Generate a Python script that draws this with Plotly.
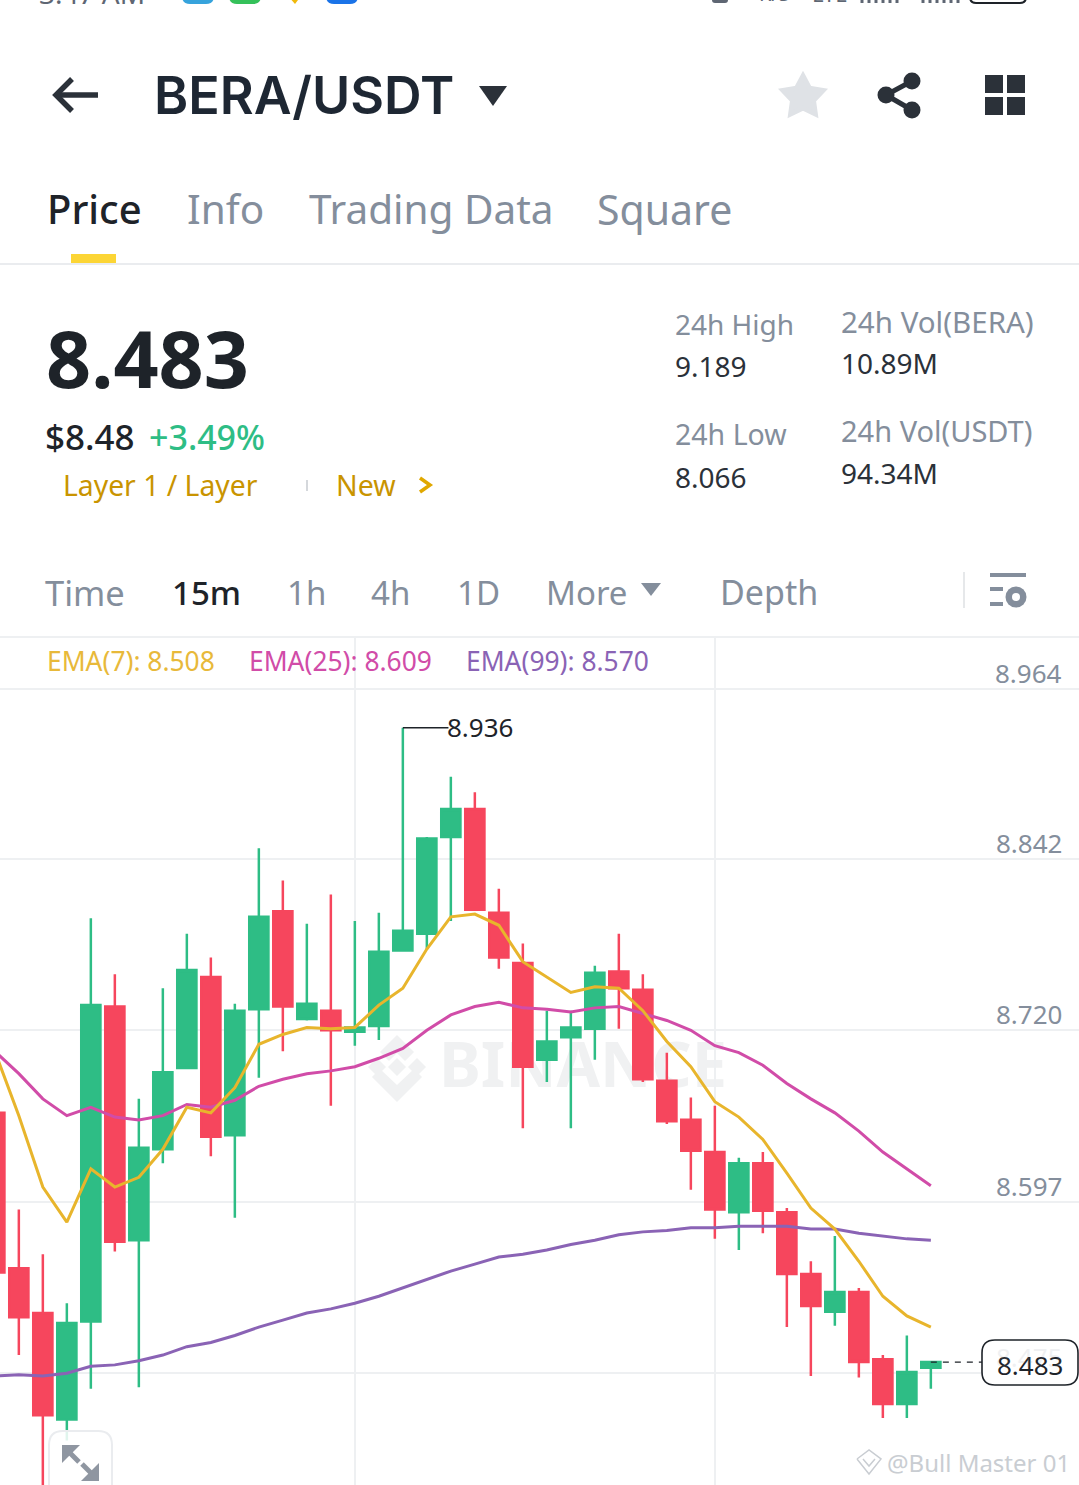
import math
import plotly.graph_objects as go

W = 1079
H = 1485

# candles, left to right
opens  = [8.661,8.550,8.518,8.442,8.512,8.737,8.570,8.635,8.693,8.758,8.645,8.735,8.805,8.728,8.734,8.719,8.723,8.777,8.789,8.858,
          8.878,8.804,8.768,8.699,8.715,8.721,8.762,8.749,8.684,8.656,8.633,8.590,8.625,8.590,8.546,8.519,8.533,8.485,8.453,8.479]
highs  = [8.670,8.592,8.560,8.525,8.800,8.760,8.671,8.750,8.789,8.772,8.739,8.850,8.827,8.796,8.817,8.798,8.804,8.936,8.858,8.901,
          8.890,8.821,8.782,8.734,8.734,8.766,8.789,8.760,8.704,8.672,8.666,8.629,8.633,8.593,8.555,8.573,8.536,8.488,8.502,8.484]
lows   = [8.537,8.488,8.385,8.427,8.464,8.562,8.465,8.625,8.693,8.630,8.586,8.686,8.705,8.727,8.666,8.709,8.713,8.777,8.778,8.798,
          8.806,8.764,8.650,8.683,8.650,8.699,8.721,8.683,8.653,8.606,8.571,8.563,8.575,8.508,8.473,8.509,8.472,8.443,8.443,8.464]
closes = [8.547,8.515,8.445,8.511,8.738,8.569,8.636,8.690,8.763,8.644,8.734,8.801,8.737,8.739,8.720,8.722,8.776,8.791,8.857,8.878,
          8.806,8.772,8.694,8.712,8.722,8.761,8.750,8.685,8.655,8.634,8.592,8.625,8.591,8.546,8.523,8.533,8.483,8.453,8.476,8.483]

ema7  = [8.705,8.659,8.608,8.583,8.621,8.608,8.615,8.635,8.665,8.661,8.679,8.710,8.717,8.722,8.721,8.722,8.738,8.750,8.778,8.801,
         8.803,8.795,8.769,8.758,8.747,8.751,8.750,8.734,8.712,8.694,8.669,8.658,8.642,8.618,8.593,8.578,8.555,8.530,8.516,8.508]
ema25 = [8.705,8.689,8.671,8.659,8.665,8.658,8.656,8.659,8.667,8.665,8.670,8.680,8.685,8.689,8.691,8.694,8.700,8.707,8.720,8.731,
         8.737,8.740,8.736,8.735,8.733,8.736,8.737,8.732,8.727,8.720,8.709,8.704,8.695,8.682,8.671,8.661,8.648,8.633,8.621,8.609]
ema99 = [8.473,8.474,8.473,8.475,8.480,8.481,8.484,8.488,8.494,8.497,8.502,8.508,8.513,8.518,8.521,8.525,8.530,8.536,8.542,8.548,
         8.553,8.558,8.560,8.563,8.567,8.570,8.574,8.576,8.577,8.579,8.579,8.580,8.580,8.580,8.578,8.578,8.575,8.573,8.571,8.570]

price_ticks  = [8.964,8.842,8.720,8.597,8.475]
time_ticks   = [15,30]
peak_price   = 8.936
peak_index   = 17
peak_label   = 18.9
last_price   = 8.483
last_index   = 39
tag_index    = 41.2

GREEN = "#2EBD85"
RED   = "#F6465D"
DARK  = "#1E2329"
GREY  = "#848E9C"
LINE  = "#EEF0F2"
GOLD  = "#C99400"
FONT  = "Noto Sans"

def px(x):
    return x / W

def py(y):
    return 1 - y / H

def label(x, y, s, size, color=GREY, anchor="left", weight=400, opacity=1, family=FONT):
    # annotations carry a little padding, pull the text back onto the spot
    if anchor == "left":
        x = x - 3
    return dict(xref="paper", yref="paper", x=px(x), y=py(y - 1), text=s, showarrow=False,
                xanchor=anchor, yanchor="middle", opacity=opacity,
                font=dict(family=family, size=size, color=color, weight=weight))

def path(points, close=True):
    d = "M " + " L ".join(f"{px(a):.5f} {py(b):.5f}" for a, b in points)
    return d + (" Z" if close else "")

def poly(points, color):
    return dict(type="path", xref="paper", yref="paper", path=path(points), fillcolor=color, line=dict(width=0))

def stroke(points, color, width):
    return dict(type="path", xref="paper", yref="paper", path=path(points, False),
                line=dict(color=color, width=width))

def rect(x0, y0, x1, y1, color):
    return dict(type="rect", xref="paper", yref="paper", x0=px(x0), x1=px(x1), y0=py(y0), y1=py(y1),
                fillcolor=color, line=dict(width=0))

def round_box(x0, y0, x1, y1, r, fill, edge, width):
    d = (f"M {px(x0+r)} {py(y0)} L {px(x1-r)} {py(y0)} Q {px(x1)} {py(y0)} {px(x1)} {py(y0+r)} "
         f"L {px(x1)} {py(y1-r)} Q {px(x1)} {py(y1)} {px(x1-r)} {py(y1)} L {px(x0+r)} {py(y1)} "
         f"Q {px(x0)} {py(y1)} {px(x0)} {py(y1-r)} L {px(x0)} {py(y0+r)} Q {px(x0)} {py(y0)} {px(x0+r)} {py(y0)} Z")
    return dict(type="path", xref="paper", yref="paper", path=d, fillcolor=fill, line=dict(color=edge, width=width))

def circle(cx, cy, r, color):
    return dict(type="circle", xref="paper", yref="paper", x0=px(cx-r), x1=px(cx+r), y0=py(cy-r), y1=py(cy+r),
                fillcolor=color, line=dict(width=0))

fig = go.Figure()

idx = list(range(len(closes)))

fig.add_trace(go.Candlestick(
    x=idx, open=opens, high=highs, low=lows, close=closes,
    increasing=dict(line=dict(color=GREEN, width=2.5), fillcolor=GREEN),
    decreasing=dict(line=dict(color=RED, width=2.5), fillcolor=RED),
    whiskerwidth=0, showlegend=False, hoverinfo="skip"))

fig.add_trace(go.Scatter(x=idx, y=ema99, mode="lines", line=dict(color="#8A63B5", width=3), showlegend=False))
fig.add_trace(go.Scatter(x=idx, y=ema25, mode="lines", line=dict(color="#D14CA8", width=3), showlegend=False))
fig.add_trace(go.Scatter(x=idx, y=ema7, mode="lines", line=dict(color="#E8B52C", width=3), showlegend=False))
fig.add_trace(go.Scatter(x=[peak_index, peak_label], y=[peak_price, peak_price], mode="lines",
                         line=dict(color=DARK, width=1.5), showlegend=False))
fig.add_trace(go.Scatter(x=[last_index, tag_index], y=[last_price, last_price], mode="lines",
                         line=dict(color=DARK, width=1.3, dash="6px,6px"), showlegend=False))

shapes = []

# status bar, cut off by the top of the screenshot
for x0, x1, c in [(182, 214, "#36A3DC"), (229, 261, "#35C15A"), (326, 358, "#1A73E8")]:
    shapes.append(round_box(x0, -20, x1, 4, 8, c, c, 0))
shapes.append(poly([(288, -4), (301, -4), (295, 4)], "#F0B90B"))
shapes.append(round_box(712, -10, 728, 3, 3, "#5E6673", "#5E6673", 0))
shapes.append(round_box(970, -20, 1026, 3, 6, "#FFFFFF", "#1E2329", 2))
for x in [862, 869, 876, 883, 890, 897, 923, 930, 937, 944, 951, 958]:
    shapes.append(rect(x - 1.5, -2, x + 1.5, 3, "#5E6673"))

# back arrow, caret
shapes.append(stroke([(98, 95), (56, 95)], "#2B3139", 5.5))
shapes.append(stroke([(72, 79), (56, 95), (72, 111)], "#2B3139", 5.5))
shapes.append(poly([(479, 86), (507, 86), (493, 106)], "#2B3139"))

# star
star = []
for k in range(10):
    r = 21 if k % 2 == 0 else 11
    a = -math.pi / 2 + k * math.pi / 5
    star.append((803 + r * math.cos(a), 97 + r * math.sin(a)))
shapes.append(dict(type="path", xref="paper", yref="paper", path=path(star), fillcolor="#DFE2E6",
                   line=dict(color="#DFE2E6", width=5)))

# share icon
shapes.append(stroke([(912, 81), (886, 95), (912, 110)], "#2B3139", 5))
shapes.append(circle(912, 81, 8.5, "#2B3139"))
shapes.append(circle(886, 95, 8.5, "#2B3139"))
shapes.append(circle(912, 110, 8.5, "#2B3139"))

# grid icon
shapes.append(rect(985, 75, 1003, 93, "#2B3139"))
shapes.append(rect(1007, 75, 1025, 93, "#2B3139"))
shapes.append(rect(985, 97, 1003, 115, "#2B3139"))
shapes.append(rect(1007, 97, 1025, 115, "#2B3139"))

# tab underline and separators
shapes.append(rect(71, 254, 116, 263, "#FCD535"))
shapes.append(rect(0, 263, W, 265, "#EAECEF"))
shapes.append(rect(306, 480, 308, 491, "#D5D8DC"))
shapes.append(stroke([(420, 478), (430, 485), (420, 492)], "#E0A800", 3.5))
shapes.append(poly([(641, 583), (661, 583), (651, 596)], GREY))
shapes.append(rect(963, 572, 965, 608, "#E6E8EA"))
shapes.append(rect(0, 636, W, 638, LINE))

# chart settings icon
shapes.append(rect(990, 573, 1026, 577, GREY))
shapes.append(rect(990, 587, 1003, 591, GREY))
shapes.append(rect(990, 602, 1003, 606, GREY))
shapes.append(circle(1016, 597, 10.5, GREY))
shapes.append(circle(1016, 597, 4, "#FFFFFF"))

# price tag
shapes.append(round_box(982, 1340, 1078, 1385, 13, "#FFFFFF", "#1E2329", 1.6))

# expand button
shapes.append(round_box(49, 1431, 112, 1510, 14, "rgba(255,255,255,0.85)", "#EAECEF", 2))
shapes.append(poly([(62, 1445), (80, 1445), (62, 1463)], "#8F96A1"))
shapes.append(stroke([(66, 1449), (79, 1462)], "#8F96A1", 5))
shapes.append(poly([(99, 1481), (81, 1481), (99, 1463)], "#8F96A1"))
shapes.append(stroke([(95, 1477), (82, 1464)], "#8F96A1", 5))

# watermark behind the candles
wm = "#F0F1F2"
shapes.append(dict(type="rect", xref="paper", yref="paper", layer="below", x0=px(438), x1=px(728), y0=py(1040), y1=py(1092),
                   line=dict(width=0), fillcolor="rgba(0,0,0,0)",
                   label=dict(text="BINANCE", textposition="middle center",
                              font=dict(family=FONT, size=63, color=wm, weight=700))))
for d in [[(397, 1035), (414, 1052), (405, 1061), (397, 1053), (389, 1061), (380, 1052)],
          [(397, 1102), (372, 1077), (380, 1069), (397, 1085), (414, 1069), (422, 1077)],
          [(397, 1058), (406, 1067), (397, 1076), (388, 1067)],
          [(377, 1058), (386, 1067), (377, 1076), (368, 1067)],
          [(417, 1058), (426, 1067), (417, 1076), (408, 1067)]]:
    s = poly(d, wm)
    s["layer"] = "below"
    shapes.append(s)

# small logo by the author mark
shapes.append(stroke([(857, 1459), (869, 1474), (881, 1459), (869, 1450), (857, 1459)], "#C9CDD2", 1.5))
shapes.append(stroke([(863, 1459), (869, 1466), (875, 1459)], "#C9CDD2", 1.5))

notes = [
    label(40, -6, "3:47 AM", 28, "#5E6673"),
    label(760, -6, "K/S", 20, "#5E6673"),
    label(813, -6, "LTE", 22, "#5E6673"),
    label(155, 97, "BERA/USDT", 52, "#1E2733", weight=600, family="Inter"),
    label(48, 210, "Price", 40, DARK, weight=500),
    label(188, 210, "Info", 40.5),
    label(310, 210, "Trading Data", 40.5),
    label(598, 210, "Square", 41),
    label(47, 358, "8.483", 79, DARK, weight=700),
    label(46, 438, "$8.48", 35, DARK, weight=500),
    label(150, 438, "+3.49%", 34, GREEN, weight=500),
    label(64, 486, "Layer 1 / Layer", 28.3, GOLD),
    label(337, 486, "New", 28.5, GOLD),
    label(676, 325, "24h High", 28),
    label(676, 367, "9.189", 28, "#2B3139"),
    label(676, 435, "24h Low", 28.5),
    label(676, 478, "8.066", 28, "#2B3139"),
    label(842, 322, "24h Vol(BERA)", 29.5),
    label(842, 364, "10.89M", 28, "#2B3139"),
    label(842, 431, "24h Vol(USDT)", 29),
    label(842, 474, "94.34M", 28, "#2B3139"),
    label(46, 593, "Time", 34.5),
    label(173, 593, "15m", 33, DARK, weight=500),
    label(288, 593, "1h", 33),
    label(372, 593, "4h", 33),
    label(458, 593, "1D", 33),
    label(547, 593, "More", 33),
    label(721, 593, "Depth", 34),
    label(48, 662, f"EMA(7): {ema7[-1]:.3f}", 26.4, "#E8B93A"),
    label(250, 662, f"EMA(25): {ema25[-1]:.3f}", 26.4, "#D14CA8"),
    label(467, 662, f"EMA(99): {ema99[-1]:.3f}", 26.4, "#8A63B5"),
    label(1030, 1366, f"{last_price:.3f}", 26, DARK, anchor="center"),
    label(888, 1463, "@Bull Master 01", 24, "#C9CDD2"),
]

# price labels sit just above their grid lines
for t in price_ticks:
    notes.append(dict(xref="paper", yref="y", x=px(1064), y=t, yshift=-4, text=f"{t:.3f}", showarrow=False,
                      xanchor="right", yanchor="bottom", opacity=0.12 if t == 8.475 else 1,
                      font=dict(family=FONT, size=26, color=GREY)))

notes.append(dict(xref="x", yref="y", x=peak_label, y=peak_price, xshift=-3, yshift=1, text=f"{peak_price:.3f}", showarrow=False,
                  xanchor="left", yanchor="middle", font=dict(family=FONT, size=26, color=DARK)))

fig.update_layout(
    width=W, height=H, margin=dict(l=0, r=0, t=0, b=0),
    paper_bgcolor="white", plot_bgcolor="rgba(0,0,0,0)",
    showlegend=False, boxgap=0.2, boxgroupgap=0,
    shapes=shapes, annotations=notes,
    xaxis=dict(range=[0.215, 45.173], tickvals=time_ticks, showticklabels=False, ticks="",
               showgrid=True, gridcolor=LINE, gridwidth=2, zeroline=False, rangeslider=dict(visible=False)),
    yaxis=dict(range=[8.3952, 9.0009], domain=[0, 848 / H], tickvals=price_ticks, showticklabels=False, ticks="",
               showgrid=True, gridcolor=LINE, gridwidth=2, zeroline=False),
)

fig.write_html("out.html", config={"displayModeBar": False},
               post_script="document.body.style.margin='0';document.body.style.overflow='hidden';")
